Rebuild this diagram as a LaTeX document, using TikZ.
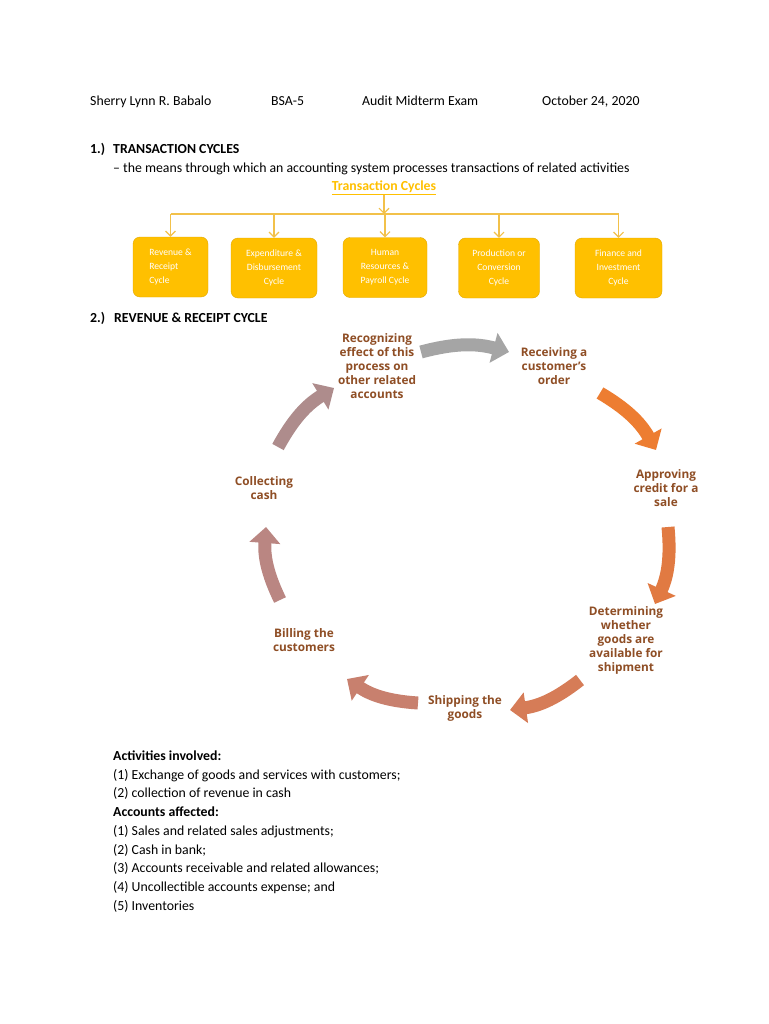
\documentclass[tikz,border=0pt]{standalone}
\usepackage{fontspec}
\setmainfont{Carlito}
\newfontfamily\labfont{Open Sans}
\usetikzlibrary{arrows.meta,positioning}

\definecolor{tcgold}{HTML}{FFC000}
\definecolor{tcedge}{HTML}{E0A800}
\definecolor{tcline}{HTML}{F2C14A}
\definecolor{labbrown}{HTML}{8F4E25}
\definecolor{cycA}{HTML}{A5A5A5}
\definecolor{cycB}{HTML}{ED7D31}
\definecolor{cycC}{HTML}{E17A42}
\definecolor{cycD}{HTML}{D67C57}
\definecolor{cycE}{HTML}{C8806E}
\definecolor{cycF}{HTML}{BA8682}
\definecolor{cycG}{HTML}{AE8C8C}

\tikzset{
  txt/.style={anchor=base west,inner sep=0pt},
  cycbox/.style={draw=tcedge,fill=tcgold,rounded corners=7pt,minimum height=60pt,
    text=white,font=\fontsize{9.6}{14}\selectfont,align=center,inner sep=2pt},
  tree/.style={draw=tcline,line width=1.1pt,-{Straight Barb[length=5pt,width=10pt]}},
  lab/.style={font=\labfont\bfseries\fontsize{11.8}{14}\selectfont,text=labbrown,
    align=center,inner sep=0pt},
  cyc/.style={line width=13pt,-{Triangle[length=16pt,width=30pt]}}
}

\begin{document}
\begin{tikzpicture}[x=1pt,y=-1pt,font=\fontsize{13.8}{16.5}\selectfont]
  \fill[white] (0,0) rectangle (768,1024);
  \useasboundingbox (0,0) rectangle (768,1024);

  % header
  \node[txt] (name) at (90,105.5) {Sherry Lynn R. Babalo};
  \node[txt] (cls) at (271,105.5) {BSA-5};
  \node[txt] (exam) at (362,105.5) {Audit Midterm Exam};
  \node[txt] (date) at (542,105.5) {October 24, 2020};

  % part 1
  \node[txt] (q1) at (90,153.5) {\textbf{1.)}};
  \node[txt] (q1t) at (113,153.5) {\textbf{TRANSACTION CYCLES}};
  \node[txt] (defn) at (113,172.5) {-- the means through which an accounting system processes transactions of related activities};
  \node[inner sep=0pt,text=tcgold] (tc) at (384,188) {\textbf{\underline{Transaction Cycles}}};

  \node[cycbox,minimum width=75pt,align=left] (b1) at (170.5,267) {Revenue \&\\Receipt\\Cycle};
  \node[cycbox,minimum width=86pt] (b2) at (274,268) {Expenditure \&\\Disbursement\\Cycle};
  \node[cycbox,minimum width=84pt] (b3) at (385,267.5) {Human\\Resources \&\\Payroll Cycle};
  \node[cycbox,minimum width=81pt] (b4) at (499,268) {Production or\\Conversion\\Cycle};
  \node[cycbox,minimum width=87pt] (b5) at (618.5,268) {Finance and\\Investment\\Cycle};

  \coordinate (bar) at (382,214);
  \draw[tree] (tc.south) -- (tc.south |- bar);
  \draw[tree,-] (b1.north |- bar) -- (b5.north |- bar);
  \foreach \b in {b1,b2,b3,b4,b5}
    \draw[tree] (\b.north |- bar) -- (\b.north);

  % part 2
  \node[txt] (q2) at (90,322.5) {\textbf{2.)}};
  \node[txt] (q2t) at (114,322.5) {\textbf{REVENUE \& RECEIPT CYCLE}};

  \node[lab] (rec) at (377,366) {Recognizing\\effect of this\\process on\\other related\\accounts};
  \node[lab] (ord) at (554,366) {Receiving a\\customer’s\\order};
  \node[lab] (cred) at (666,488) {Approving\\credit for a\\sale};
  \node[lab] (avail) at (626,640) {Determining\\whether\\goods are\\available for\\shipment};
  \node[lab] (ship) at (465,708) {Shipping the\\goods};
  \node[lab] (bill) at (304,640) {Billing the\\customers};
  \node[lab] (coll) at (264,488) {Collecting\\cash};

  \foreach \i/\sx/\sy/\ex/\ey/\c in {1/421/352/509/352/cycA,2/600/393/656/450/cycB,
      3/668/527/655/604/cycC,4/580/680/510/710/cycD,5/418/703/347/679/cycE,
      6/280/600/266/527/cycF,7/278/447/334/388/cycG}{
    \coordinate (t\i) at (\sx,\sy);
    \coordinate (h\i) at (\ex,\ey);
    \draw[cyc,draw=\c] (t\i) to[bend left=15] (h\i);}

  % notes
  \foreach \y/\t [count=\i] in {760.5/{\textbf{Activities involved:}},
      779.5/{(1) Exchange of goods and services with customers;},
      797.5/{(2) collection of revenue in cash},
      816.5/{\textbf{Accounts affected:}},
      835.5/{(1) Sales and related sales adjustments;},
      854.5/{(2) Cash in bank;},
      872.5/{(3) Accounts receivable and related allowances;},
      891.5/{(4) Uncollectible accounts expense; and},
      910.5/{(5) Inventories}}
    \node[txt] (note\i) at (113,\y) {\t};
\end{tikzpicture}
\end{document}
